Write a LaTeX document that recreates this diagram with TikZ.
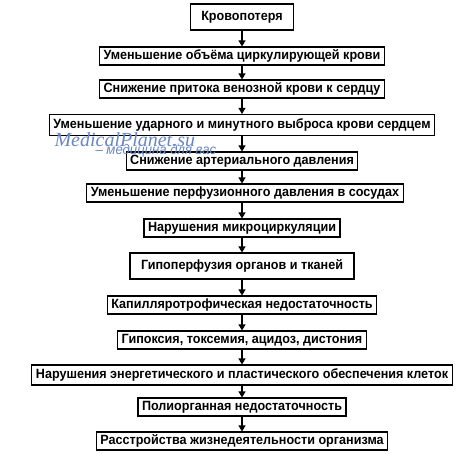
\documentclass[tikz,border=0pt]{standalone}
\usepackage{fontspec}
\setmainfont{Liberation Sans}[FakeStretch=0.94]
\newfontfamily\wmserif{Liberation Serif}
\usetikzlibrary{arrows.meta}

\definecolor{wmblue}{RGB}{105,135,195}

\tikzset{
  stage/.style={draw, line width=1.1pt, inner xsep=4pt, inner ysep=0pt,
    minimum height=18pt, font=\bfseries\fontsize{13.4}{13.4}\selectfont},
  bigstage/.style={stage, minimum height=26pt, inner xsep=11pt},
  flow/.style={-{Triangle[length=6pt,width=7pt]}, line width=1.1pt},
}

\begin{document}
\begin{tikzpicture}[x=1pt,y=-1pt]
  \useasboundingbox (0,0) rectangle (474,453);
  \node[bigstage] (loss) at (242,17) {Кровопотеря};
  \node[stage] (volume) at (242,56) {Уменьшение объёма циркулирующей крови};
  \node[stage] (venous) at (242,89) {Снижение притока венозной крови к сердцу};
  \node[stage, minimum height=21pt] (output) at (242,125) {Уменьшение ударного и минутного выброса крови сердцем};
  \node[stage] (pressure) at (242,161) {Снижение артериального давления};
  \node[stage] (perfusion) at (245,193) {Уменьшение перфузионного давления в сосудах};
  \node[stage] (micro) at (242,228) {Нарушения микроциркуляции};
  \node[bigstage] (hypo) at (242,266) {Гипоперфузия органов и тканей};
  \node[stage] (capillary) at (242,305) {Капилляротрофическая недостаточность};
  \node[stage] (hypoxia) at (242,340) {Гипоксия, токсемия, ацидоз, дистония};
  \node[stage, minimum height=20pt] (cells) at (242,375) {Нарушения энергетического и пластического обеспечения клеток};
  \node[stage] (organs) at (242,407) {Полиорганная недостаточность};
  \node[stage] (life) at (242,441) {Расстройства жизнедеятельности организма};

  % arrows down the chain
  \draw[flow] (loss) -- (volume);
  \draw[flow] (volume) -- (venous);
  \draw[flow] (venous) -- (output);
  \draw[flow] (output) -- (pressure);
  \draw[flow] (pressure) -- (perfusion.north -| pressure);
  \draw[flow] (perfusion.south -| micro) -- (micro);
  \draw[flow] (micro) -- (hypo);
  \draw[flow] (hypo) -- (capillary);
  \draw[flow] (capillary) -- (hypoxia);
  \draw[flow] (hypoxia) -- (cells);
  \draw[flow] (cells) -- (organs);
  \draw[flow] (organs) -- (life);

  % watermark
  \node[anchor=west, text=wmblue, font=\wmserif\itshape\fontsize{20}{20}\selectfont] (wmname) at (51,140) {MedicalPlanet.su};
  \node[anchor=west, text=wmblue, font=\itshape\fontsize{14}{14}\selectfont] (wmslogan) at (92,151) {– медицина для вас};
\end{tikzpicture}
\end{document}
